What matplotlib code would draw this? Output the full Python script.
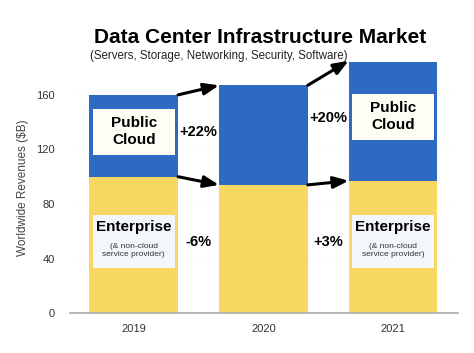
import matplotlib
matplotlib.use('Agg')
import matplotlib.pyplot as plt
import numpy as np

years = ["2019", "2020", "2021"]
enterprise = [100, 94, 97]
cloud = [60, 73, 88]
cloud_growth = ["+22%", "+20%"]
ent_growth = ["-6%", "+3%"]

blue = "#2F6AC2"
yellow = "#F8D862"

plt.rcParams['font.family'] = ['Liberation Sans', 'DejaVu Sans']

fig = plt.figure(figsize=(4.74, 3.53), dpi=100)
ax = fig.add_axes([0.148, 0.113, 0.818, 0.711])

x = np.arange(len(years))
w = 0.685
ent = np.array(enterprise)
cl = np.array(cloud)
total = ent + cl

ax.bar(x, ent, width=w, color=yellow, zorder=2)
ax.bar(x, cl, width=w, bottom=ent, color=blue, zorder=2)

ax.set_xlim(-0.49, 2.5)
ax.set_ylim(0, 184)
ax.set_yticks([0, 40, 80, 120, 160])
ax.set_xticks(x)
ax.set_xticklabels(years)
ax.tick_params(length=0, labelsize=8, colors="#333333")
ax.tick_params(axis='x', pad=8)
ax.tick_params(axis='y', pad=11)
ax.grid(axis='y', color="#f8f8f8", lw=0.5, zorder=0)
for s in ["top", "right", "left"]:
    ax.spines[s].set_visible(False)
ax.spines["bottom"].set_color("#aaaaaa")
ax.spines["bottom"].set_linewidth(1.2)
ax.set_ylabel("Worldwide Revenues ($B)", fontsize=8.5, color="#444444", labelpad=0)
ax.yaxis.set_label_coords(-0.107, 0.5)

# arrows between bars
arrow = dict(arrowstyle="-|>,head_length=0.9,head_width=0.35", color="black", lw=2.2,
             shrinkA=0, shrinkB=0)
for i in range(len(years) - 1):
    ax.annotate("", xy=(x[i + 1] - w / 2, total[i + 1]), xytext=(x[i] + w / 2, total[i]),
                arrowprops=arrow, zorder=5, annotation_clip=False)
    ax.annotate("", xy=(x[i + 1] - w / 2, ent[i + 1]), xytext=(x[i] + w / 2, ent[i]),
                arrowprops=arrow, zorder=5, annotation_clip=False)
    xm = x[i] + 0.5
    ax.text(xm, [133, 143][i], cloud_growth[i], ha="center", va="center",
            fontsize=10.5, fontweight="bold")
    ax.text(xm, 52, ent_growth[i], ha="center", va="center",
            fontsize=10.5, fontweight="bold")

# label boxes on 2019 and 2021
bw = 0.635
for i, cy in [(0, 133), (2, 144)]:
    ax.add_patch(plt.Rectangle((x[i] - bw / 2, cy - 17), bw, 34, facecolor="#FFFEF4",
                               edgecolor="none", zorder=3))
    ax.text(x[i], cy, "Public\nCloud", ha="center", va="center", fontsize=11,
            fontweight="bold", linespacing=1.3, zorder=4)
    ax.add_patch(plt.Rectangle((x[i] - bw / 2, 33), bw, 39, facecolor="#F3F6FA",
                               edgecolor="none", zorder=3))
    ax.text(x[i], 63, "Enterprise", ha="center", va="center", fontsize=11,
            fontweight="bold", zorder=4)
    ax.text(x[i], 46, "(& non-cloud\nservice provider)", ha="center", va="center",
            fontsize=6, color="#333333", linespacing=1.2, zorder=4)

fig.text(0.549, 0.895, "Data Center Infrastructure Market", ha="center", va="center",
         fontsize=15, fontweight="bold")
fig.text(0.19, 0.841, "(Servers, Storage, Networking, Security, Software)", ha="left",
         va="center", fontsize=8.3, color="#222222")

fig.savefig("out.png", dpi=100)
